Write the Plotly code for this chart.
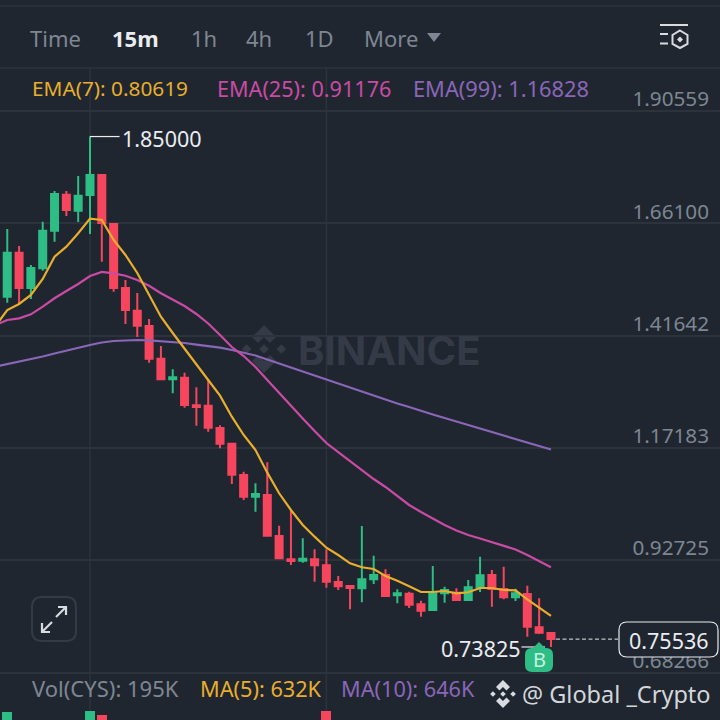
import plotly.graph_objects as go

# candle index, 0 is the 1.85000 high, 20 is the second vertical gridline
idx = list(range(-8, 40))

c_open = [1.3851, 1.5012, 1.5970, 1.5201, 1.5630, 1.6449, 1.7233, 1.6885, 1.7227, 1.7662, 1.6595, 1.5201,
          1.4707, 1.4374, 1.3662, 1.3213, 1.3248, 1.2647, 1.2638, 1.2152, 1.1810, 1.1128, 1.0656, 1.0693,
          0.9800, 0.9292, 0.9262, 0.9292, 0.9162, 0.8798, 0.8711, 0.8661, 0.8857, 0.8950, 0.8508, 0.8543,
          0.8312, 0.8188, 0.8552, 0.8565, 0.8406, 0.8683, 0.8950, 0.8646, 0.8465, 0.8537, 0.7811, 0.7687]
c_high = [1.5005, 1.6486, 1.6116, 1.5702, 1.6645, 1.7314, 1.7314, 1.7641, 1.85000, 1.7684, 1.6617, 1.5376,
          1.5092, 1.4526, 1.3938, 1.3431, 1.3357, 1.3039, 1.3198, 1.2211, 1.1810, 1.1200, 1.0948, 1.1405,
          1.0024, 1.0366, 0.9750, 0.9510, 0.9510, 0.8929, 0.8711, 1.0018, 0.9371, 0.9075, 0.8639, 0.8587,
          0.8391, 0.9147, 0.8696, 0.8661, 0.8842, 0.9349, 0.9059, 0.9131, 0.8652, 0.8718, 0.8443, 0.7694]
c_low = [1.3851, 1.4881, 1.4853, 1.4962, 1.5578, 1.6210, 1.6770, 1.6639, 1.6377, 1.5774, 1.5121, 1.4417,
         1.4134, 1.3574, 1.3198, 1.2908, 1.2594, 1.2202, 1.2072, 1.1710, 1.0932, 1.0584, 1.0329, 0.9800,
         0.9306, 0.9168, 0.9218, 0.8805, 0.8674, 0.8624, 0.8203, 0.8356, 0.8754, 0.8478, 0.8334, 0.8232,
         0.8042, 0.8188, 0.8347, 0.8406, 0.8406, 0.8580, 0.8260, 0.8421, 0.8384, 0.7607, 0.7665, 0.73825]
c_close = [1.5005, 1.5970, 1.5201, 1.5637, 1.6449, 1.7249, 1.6900, 1.7212, 1.7662, 1.6617, 1.5201, 1.4722,
           1.4380, 1.3662, 1.3213, 1.3256, 1.2653, 1.2610, 1.2159, 1.1810, 1.1135, 1.0656, 1.0715, 0.9806,
           0.9314, 0.9255, 0.9306, 0.9162, 0.8805, 0.8704, 0.8667, 0.8857, 0.8950, 0.8493, 0.8552, 0.8304,
           0.8173, 0.8552, 0.8624, 0.8406, 0.8683, 0.8944, 0.8646, 0.8465, 0.8552, 0.7824, 0.7694, 0.75536]

ema7 = [1.4374, 1.4722, 1.4853, 1.5049, 1.5397, 1.5883, 1.6101, 1.6393, 1.6711, 1.6682, 1.6247, 1.5920,
        1.5528, 1.5049, 1.4576, 1.4221, 1.3888, 1.3546, 1.3198, 1.2856, 1.2398, 1.2000, 1.1673, 1.1179,
        1.0730, 1.0366, 1.0039, 0.9785, 0.9545, 0.9386, 0.9205, 0.9118, 0.9081, 0.8929, 0.8826, 0.8704,
        0.8580, 0.8580, 0.8602, 0.8552, 0.8574, 0.8667, 0.8667, 0.8624, 0.8617, 0.8421, 0.8238, 0.80619]
ema25 = [1.4395, 1.4504, 1.4541, 1.4628, 1.4794, 1.4977, 1.5136, 1.5288, 1.5463, 1.5550, 1.5521, 1.5469,
         1.5376, 1.5251, 1.5086, 1.4940, 1.4809, 1.4635, 1.4428, 1.4178, 1.3916, 1.3720, 1.3481, 1.3198,
         1.2914, 1.2631, 1.2359, 1.2087, 1.1825, 1.1629, 1.1433, 1.1237, 1.1041, 1.0867, 1.0671, 1.0475,
         1.0323, 1.0181, 1.0039, 0.9920, 0.9822, 0.9745, 0.9669, 0.9582, 0.9506, 0.9386, 0.9255, 0.91176]
ema99 = [1.3492, 1.3546, 1.3590, 1.3640, 1.3709, 1.3775, 1.3840, 1.3905, 1.3960, 1.4014, 1.4047, 1.4058,
         1.4069, 1.4062, 1.4047, 1.4032, 1.4003, 1.3966, 1.3938, 1.3901, 1.3851, 1.3797, 1.3731, 1.3644,
         1.3557, 1.3470, 1.3383, 1.3296, 1.3198, 1.3110, 1.3023, 1.2936, 1.2849, 1.2769, 1.2686, 1.2610,
         1.2522, 1.2446, 1.2370, 1.2294, 1.2217, 1.2152, 1.2076, 1.2000, 1.1913, 1.1836, 1.1760, 1.16828]

# only these volume bars reach into the picture
vol_idx = [-7, 0, 1, 20]
vol_vals = [1.783e6, 1.79e6, 1.75e6, 1.79e6]
vol_up = [True, True, False, False]

price_ticks = [1.90559, 1.66100, 1.41642, 1.17183, 0.92725, 0.68266]

tabs = ["Time", "15m", "1h", "4h", "1D", "More"]
tab_x = [30, 112, 191, 246, 305, 364]

BG = "#1f2630"
GRID = "#2c333d"
GREY = "#7e8692"
UP = "#2ebd85"
DOWN = "#f6465d"
GOLD = "#e8ae2d"
PINK = "#c94ba4"
PURPLE = "#8a66b8"
WHITE = "#eaecef"
FONT = "Noto Sans"


def px(x):
    return x / 720


def py(y):
    return 1 - y / 720


annotations = []
shapes = []


def label(x, y, s, color, size=21, anchor="left", bold=False, family=FONT):
    # annotation boxes have a little padding, xshift takes it back out
    shift = {"left": -2.5, "right": 2, "center": 0}[anchor]
    annotations.append(dict(x=px(x), y=py(y), xref="paper", yref="paper", text=f"<b>{s}</b>" if bold else s,
                            showarrow=False, xanchor=anchor, yanchor="middle", align="left", xshift=shift,
                            font=dict(color=color, size=size, family=family)))


def stroke(path, color, width=2, fill=None, layer="above"):
    shapes.append(dict(type="path", path=path, xref="paper", yref="paper", layer=layer,
                       line=dict(color=color, width=width), fillcolor=fill))


def poly(points):
    return "M" + " L".join(f"{px(x):.5f},{py(y):.5f}" for x, y in points) + " Z"


def open_poly(points):
    return "M" + " L".join(f"{px(x):.5f},{py(y):.5f}" for x, y in points)


def round_rect(x0, y0, x1, y1, r):
    return (f"M{px(x0 + r):.5f},{py(y0):.5f} L{px(x1 - r):.5f},{py(y0):.5f} "
            f"Q{px(x1):.5f},{py(y0):.5f} {px(x1):.5f},{py(y0 + r):.5f} L{px(x1):.5f},{py(y1 - r):.5f} "
            f"Q{px(x1):.5f},{py(y1):.5f} {px(x1 - r):.5f},{py(y1):.5f} L{px(x0 + r):.5f},{py(y1):.5f} "
            f"Q{px(x0):.5f},{py(y1):.5f} {px(x0):.5f},{py(y1 - r):.5f} L{px(x0):.5f},{py(y0 + r):.5f} "
            f"Q{px(x0):.5f},{py(y0):.5f} {px(x0 + r):.5f},{py(y0):.5f} Z")


def logo(cx, cy, r, color, layer="above"):
    # diamond mark made of four small squares and two chevrons
    def pts(lst):
        return [(cx + a * r, cy + b * r) for a, b in lst]
    d = 0.2
    for ox, oy in [(0, 0), (-0.72, 0), (0.72, 0)]:
        stroke(poly(pts([(ox, oy - d), (ox + d, oy), (ox, oy + d), (ox - d, oy)])), color, 0, color, layer)
    chev = [(0, 1), (0.5, 0.5), (0.25, 0.25), (0, 0.5), (-0.25, 0.25), (-0.5, 0.5)]
    stroke(poly(pts(chev)), color, 0, color, layer)
    stroke(poly(pts([(a, -b) for a, b in chev])), color, 0, color, layer)


fig = go.Figure()

fig.add_trace(go.Bar(x=vol_idx, y=vol_vals, yaxis="y2", width=0.85,
                     marker=dict(color=[UP if u else DOWN for u in vol_up], line=dict(width=0))))

fig.add_trace(go.Candlestick(x=idx, open=c_open, high=c_high, low=c_low, close=c_close, whiskerwidth=0,
                             increasing=dict(line=dict(color=UP, width=2), fillcolor=UP),
                             decreasing=dict(line=dict(color=DOWN, width=2), fillcolor=DOWN)))

for vals, col in [(ema99, PURPLE), (ema25, PINK), (ema7, GOLD)]:
    fig.add_trace(go.Scatter(x=idx, y=vals, mode="lines", line=dict(color=col, width=2.2)))

# header
for t, x in zip(tabs, tab_x):
    if t == "15m":
        label(x, 37.5, t, WHITE, 22, bold=True)
    else:
        label(x, 37.5, t, GREY, 22)
stroke(poly([(427, 33), (441, 33), (434, 42)]), GREY, 0, GREY)
stroke(open_poly([(660, 25), (688, 25)]), "#d8dbdf")
stroke(open_poly([(660, 34), (668, 34)]), "#d8dbdf")
stroke(open_poly([(660, 43.5), (668, 43.5)]), "#d8dbdf")
stroke(poly([(680, 30.5), (687.5, 35), (687.5, 44), (680, 48), (672.5, 44), (672.5, 35)]), "#d8dbdf")
stroke(poly([(680, 36.5), (683, 39.5), (680, 42.5), (677, 39.5)]), "#d8dbdf", 0, "#d8dbdf")

# separators and vertical gridlines
for y in [6, 68]:
    stroke(open_poly([(0, y), (720, y)]), GRID, 1.5, layer="below")
for k in [0, 20]:
    shapes.append(dict(type="line", xref="x", yref="paper", x0=k, x1=k, y0=0, y1=py(68), layer="below",
                       line=dict(color=GRID, width=1.5)))

# watermark
logo(264, 349, 24, "#353b46", "below")
label(298, 350, "BINANCE", "#353b46", 40, bold=True, family="Inter")

# indicator rows
label(32, 88, "EMA(7): 0.80619", GOLD, 20.8)
label(217, 88, "EMA(25): 0.91176", PINK, 21.6)
label(413, 88, "EMA(99): 1.16828", PURPLE, 21.8)
label(32, 688, "Vol(CYS): 195K", GREY, 22)
label(200, 688, "MA(5): 632K", GOLD, 21.7)
label(341, 688, "MA(10): 646K", PURPLE, 21.7)
logo(503, 694, 14, "#d8dbdf")
label(522, 694, "@ Global _Crypto", "#d3d6da", 23.5)
label(709, 728, "1.70M", GREY, 20, anchor="right")

# high and low marks
shapes.append(dict(type="line", xref="x", yref="y", x0=0, x1=2.5, y0=1.85, y1=1.85, line=dict(color=WHITE, width=1.2)))
label(122, 138, "1.85000", WHITE, 21.5)
shapes.append(dict(type="line", xref="x", yref="y", x0=36.5, x1=38.5, y0=0.73825, y1=0.73825,
                   line=dict(color=WHITE, width=1.2)))
label(521, 648, "0.73825", WHITE, 21.5, anchor="right")

# buy marker
stroke(round_rect(525, 648, 553, 672, 7), UP, 0, UP)
stroke(poly([(532, 649), (539, 642), (546, 649)]), UP, 0, UP)
label(539.5, 659.5, "B", "#c8f3e2", 20, anchor="center")

# last price tag
shapes.append(dict(type="line", xref="paper", yref="y", x0=px(556), x1=px(618), y0=0.75536, y1=0.75536,
                   line=dict(color=WHITE, width=1, dash="4px,2.5px")))
stroke(round_rect(619, 622, 718, 657, 8), WHITE, 1.2, BG)
label(709, 640, "0.75536", WHITE, 21.5, anchor="right")

# expand button
stroke(round_rect(32, 597, 76, 641, 10), "#353b46", 2)
stroke(open_poly([(56, 617), (66, 607)]), "#d8dbdf", 2.2)
stroke(open_poly([(58, 607), (66, 607), (66, 615)]), "#d8dbdf", 2.2)
stroke(open_poly([(42, 632), (52, 622)]), "#d8dbdf", 2.2)
stroke(open_poly([(42, 623), (42, 632), (50, 632)]), "#d8dbdf", 2.2)

fig.update_layout(
    width=720, height=720, margin=dict(l=0, r=0, t=0, b=0), autosize=False,
    paper_bgcolor=BG, plot_bgcolor="rgba(0,0,0,0)", showlegend=False, bargap=0, boxgap=0.15,
    annotations=annotations, shapes=shapes,
    xaxis=dict(range=[-7.614, 53.3], visible=False, rangeslider=dict(visible=False), fixedrange=True),
    yaxis=dict(range=[0.5792, 2.1474], domain=[0, 1], side="right", tickmode="array", tickvals=price_ticks,
               ticktext=[f"{v:.5f}" for v in price_ticks], ticklabelposition="inside", ticklen=0,
               ticklabelshift=-12, ticklabelstandoff=8, showline=False, zeroline=False,
               gridcolor=GRID, gridwidth=1.5, tickfont=dict(color=GREY, size=20.7, family=FONT)),
    yaxis2=dict(range=[1.70e6, 1.80e6], domain=[0, 10 / 720], visible=False, showgrid=False),
)

# page has a default 8px body margin, drop it so the figure fills the window
fig.write_html("out.html", config=dict(displayModeBar=False),
               post_script="document.body.style.margin='0';document.body.style.background='#1f2630';")
